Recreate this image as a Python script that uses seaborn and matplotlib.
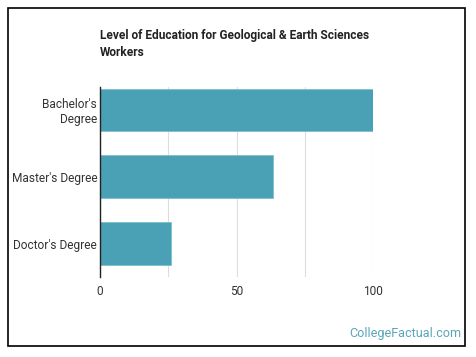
import matplotlib
matplotlib.use("Agg")
import pandas as pd
import seaborn as sns
import matplotlib.pyplot as plt
from matplotlib.patches import Rectangle

degrees = ["Bachelor's\nDegree", "Master's Degree", "Doctor's Degree"]
workers = [100, 63.4, 26.0]
x_ticks = [0, 50, 100]
x_grid = [0, 25, 50, 75, 100]

df = pd.DataFrame({"Degree": degrees, "Workers": workers})

sns.set_style("white")
plt.rcParams["font.family"] = ["Roboto", "DejaVu Sans"]

fig = plt.figure(figsize=(4.76, 3.57), dpi=100)
ax = fig.add_axes([100 / 476, 1 - 277 / 357, 273.3 / 476, 190 / 357])

sns.barplot(data=df, x="Workers", y="Degree", color="#4aa0b5", saturation=1,
            width=0.634, edgecolor="#7cc0cf", linewidth=0.6, ax=ax, zorder=3)

ax.set_xlim(0, 100)
ax.set_ylim(2.5, -0.34)
ax.set_xticks(x_grid)
ax.set_xticklabels([str(v) if v in x_ticks else "" for v in x_grid])
ax.grid(axis="x", color="#dddddd", linewidth=0.8, zorder=0)
ax.tick_params(axis="both", length=0, labelsize=8.6, colors="#333333")
ax.tick_params(axis="y", pad=2)
ax.tick_params(axis="x", pad=6)
ax.set_xlabel("")
ax.set_ylabel("")
for side in ["top", "right", "bottom"]:
    ax.spines[side].set_visible(False)
ax.spines["left"].set_color("#222222")
ax.spines["left"].set_linewidth(1)
ax.spines["left"].set_zorder(4)

fig.text(100 / 476, 1 - 29 / 357, "Level of Education for Geological & Earth Sciences\nWorkers",
         fontsize=8.6, fontweight="bold", color="#222222", va="top", ha="left", linespacing=1.4)
fig.text(461 / 476, 1 - 334 / 357, "CollegeFactual.com", fontsize=9.1, color="#5aa5b8",
         ha="right", va="center")

fig.patches.append(Rectangle((8 / 476, 1 - 346 / 357), 457 / 476, 338 / 357,
                             transform=fig.transFigure, fill=False,
                             edgecolor="black", linewidth=1.2))

fig.savefig("out.png", dpi=100)
